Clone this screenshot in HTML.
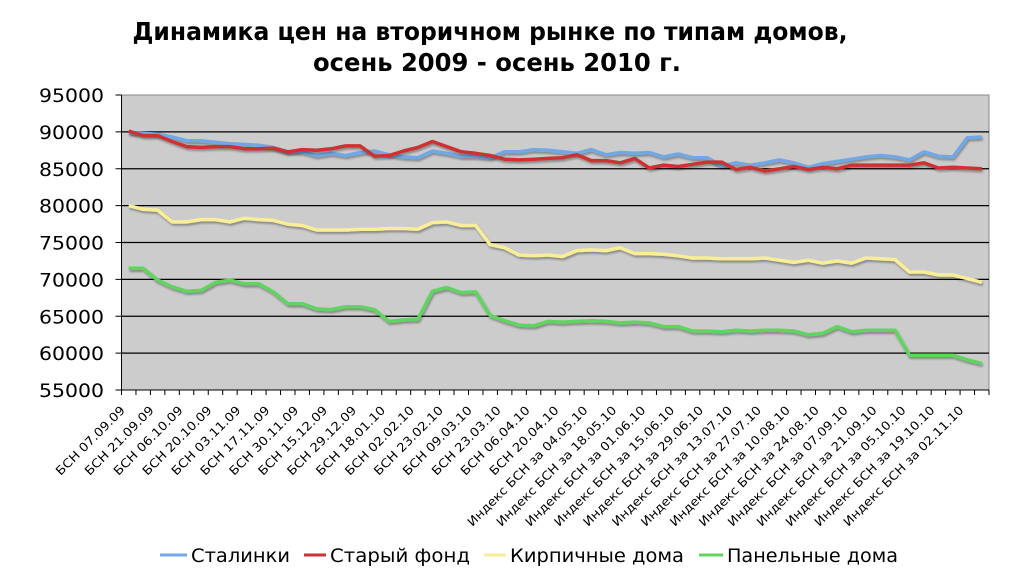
<!DOCTYPE html>
<html><head><meta charset="utf-8"><style>
html,body{margin:0;padding:0;background:#fff;}
svg{display:block;font-family:"DejaVu Sans","Liberation Sans",sans-serif;}
</style></head><body>
<svg id="chart" width="1020" height="583" viewBox="0 0 1020 583" xmlns="http://www.w3.org/2000/svg">
<defs><filter id="sh" x="-5%" y="-5%" width="110%" height="120%"><feGaussianBlur in="SourceAlpha" stdDeviation="1"/><feOffset dx="1" dy="2" result="b"/><feComponentTransfer><feFuncA type="linear" slope="0.35"/></feComponentTransfer><feMerge><feMergeNode/><feMergeNode in="SourceGraphic"/></feMerge></filter></defs>
<g font-family="'DejaVu Sans Condensed','Liberation Sans Narrow','Liberation Sans',sans-serif" font-weight="bold" font-size="25" text-anchor="middle">
<text x="490" y="40" textLength="715" lengthAdjust="spacingAndGlyphs">Динамика цен на вторичном рынке по типам домов,</text>
<text x="497" y="71" textLength="368" lengthAdjust="spacingAndGlyphs">осень 2009 - осень 2010 г.</text>
</g>
<rect x="121.5" y="95" width="867.5" height="295" fill="#cccccc" stroke="#888" stroke-width="1"/>
<g id="grid"></g><g id="yaxis"></g><g id="xaxis"></g><g id="series"></g>
<g id="legend" font-size="19"></g>
</svg>
<script>
const categories = ["БСН 07.09.09","","БСН 21.09.09","","БСН 06.10.09","","БСН 20.10.09","","БСН 03.11.09","","БСН 17.11.09","","БСН 30.11.09","","БСН 15.12.09","","БСН 29.12.09","","БСН 18.01.10","","БСН 02.02.10","","БСН 23.02.10","","БСН 09.03.10","","БСН 23.03.10","","БСН 06.04.10","","БСН 20.04.10","","Индекс  БСН за 04.05.10","","Индекс  БСН за 18.05.10","","Индекс  БСН за 01.06.10","","Индекс  БСН за 15.06.10","","Индекс  БСН за 29.06.10","","Индекс  БСН за 13.07.10","","Индекс  БСН за 27.07.10","","Индекс  БСН за 10.08.10","","Индекс  БСН за 24.08.10","","Индекс  БСН за 07.09.10","","Индекс  БСН за 21.09.10","","Индекс  БСН за 05.10.10","","Индекс  БСН за 19.10.10","","Индекс  БСН за 02.11.10",""];
const stalinki = [89900,89800,89700,89300,88800,88800,88600,88400,88300,88200,87900,87300,87300,86800,87100,86800,87200,87400,86900,86600,86500,87400,87100,86700,86700,86500,87300,87300,87600,87500,87300,87100,87600,86900,87200,87100,87200,86600,87000,86500,86500,85400,85800,85500,85800,86200,85800,85200,85700,86000,86300,86600,86800,86600,86200,87300,86700,86600,89200,89300];
const staryFond = [90100,89500,89500,88700,88000,87900,88000,88000,87700,87700,87800,87300,87600,87500,87700,88100,88100,86700,86800,87400,87900,88700,88000,87300,87100,86800,86300,86200,86300,86400,86500,86900,86100,86100,85800,86400,85100,85500,85300,85600,85900,85900,84900,85200,84700,85000,85300,84900,85200,85000,85500,85500,85500,85500,85500,85800,85100,85200,85100,85000];
const kirpich = [80000,79500,79400,77800,77800,78100,78100,77800,78300,78100,78000,77500,77300,76700,76700,76700,76800,76800,76900,76900,76800,77700,77800,77300,77300,74700,74300,73300,73200,73300,73100,73900,74000,73900,74300,73500,73500,73400,73200,72900,72900,72800,72800,72800,72900,72600,72300,72600,72200,72500,72200,72900,72800,72700,71000,71000,70600,70600,70100,69600];
const panel = [71500,71500,69900,69000,68400,68500,69600,69900,69400,69400,68300,66700,66700,66000,65900,66300,66300,65900,64300,64500,64600,68400,68900,68200,68300,65100,64400,63800,63700,64300,64200,64300,64400,64300,64100,64200,64100,63600,63600,63000,63000,62900,63100,63000,63100,63100,63000,62500,62700,63600,62900,63100,63100,63100,59700,59700,59700,59700,59100,58600];
const yTicks = [55000,60000,65000,70000,75000,80000,85000,90000,95000];
const seriesNames = ["Сталинки","Старый фонд","Кирпичные дома","Панельные дома"];

const NS="http://www.w3.org/2000/svg";
const L=121.5,R=989,T=95,B=390,YMIN=55000,YMAX=95000;
const n=categories.length, step=(R-L)/n;
const xS=i=>L+step*(i+0.5);
const yS=v=>B-(v-YMIN)/(YMAX-YMIN)*(B-T);
function mk(tag,attrs,parent){const e=document.createElementNS(NS,tag);for(const k in attrs)e.setAttribute(k,attrs[k]);parent.appendChild(e);return e;}
const grid=document.getElementById('grid'),ya=document.getElementById('yaxis'),xa=document.getElementById('xaxis'),sg=document.getElementById('series'),lg=document.getElementById('legend');
yTicks.forEach(v=>{
  const y=yS(v);
  if(v>YMIN&&v<YMAX){const g=mk('line',{x1:L,x2:R,y1:y,y2:y,stroke:'#000','stroke-width':1.2},grid);
  
  }
  const tk=mk('line',{x1:L-6,x2:L,y1:y,y2:y,stroke:'#000'},ya);
  
  
  const t=mk('text',{x:104,y:y+7,'text-anchor':'end','font-size':19,textLength:65,lengthAdjust:'spacingAndGlyphs'},ya);
  
  
  t.textContent=v;
});
mk('line',{x1:L,x2:L,y1:T,y2:B,stroke:'#000'},ya);
mk('line',{x1:L,x2:R,y1:B,y2:B,stroke:'#000'},xa);
for(let i=0;i<=n;i++){const tk=mk('line',{x1:L+step*i,x2:L+step*i,y1:B,y2:B+5,stroke:'#000'},xa);
  
  }
categories.forEach((c,i)=>{
  if(!c)return;
  const x=xS(i)-3,y=411;
  const len=c.length>14?164:92;
  const t=mk('text',{x:x,y:y,'text-anchor':'end','font-size':12,textLength:len,lengthAdjust:'spacingAndGlyphs','xml:space':'preserve',transform:`rotate(-45 ${x} ${y})`},xa);
  
  
  t.textContent=c;
});
const colors=["#6fa8e6","#cc3333","#f7ee96","#5fd45f"];
[stalinki,staryFond,kirpich,panel].forEach((arr,si)=>{
  const p=mk('polyline',{points:arr.map((v,i)=>xS(i).toFixed(1)+','+yS(v).toFixed(1)).join(' '),fill:'none',stroke:colors[si],'stroke-width':3.5,'stroke-linejoin':'round',filter:'url(#sh)'},sg);
  
  
});
const lx=[160,304,484,699], tx=[191,330,510,727], tw=[99,140,174,171];
seriesNames.forEach((nm,si)=>{
  const g=mk('g',{},lg);
  
  
  mk('line',{x1:lx[si],x2:tx[si]-4,y1:555,y2:555,stroke:colors[si],'stroke-width':3},g);
  const t=mk('text',{x:tx[si],y:562,textLength:tw[si],lengthAdjust:'spacingAndGlyphs'},g);
  t.textContent=nm;
});
</script>
</body></html>
